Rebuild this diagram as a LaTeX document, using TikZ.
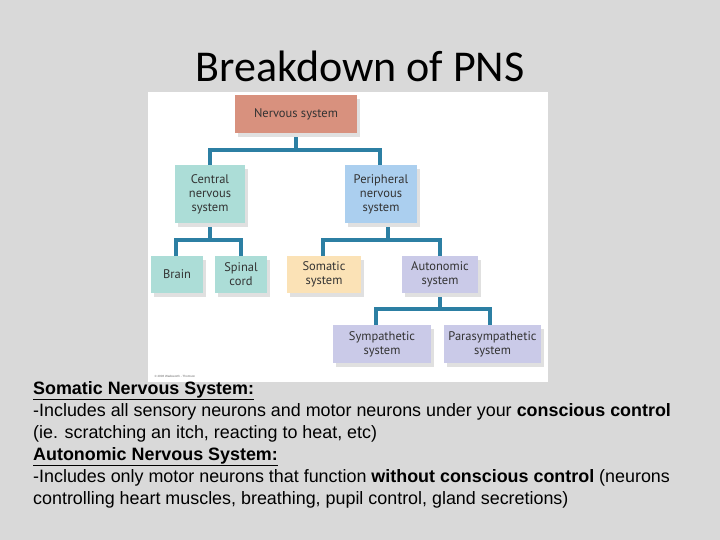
\documentclass[tikz,border=0pt]{standalone}
\usepackage{fontspec}
\setmainfont{Liberation Sans}
\newfontfamily\titlefont{Carlito}
\newfontfamily\boxfont{PT Sans}
\begin{document}
\begin{tikzpicture}[x=1pt,y=-1pt,
  bx/.style={draw=none,minimum width=#1,align=center,font=\boxfont\fontsize{12.5}{14}\selectfont,text=black!80,inner sep=1pt},
  conn/.style={draw=conncol,line width=4.5pt},
  body/.style={anchor=north west,inner sep=0pt,font=\fontsize{17.9}{22}\selectfont,align=left}]
\definecolor{conncol}{HTML}{2C7FA3}
\definecolor{cnerv}{HTML}{D8917E}
\definecolor{ccns}{HTML}{ACDDD7}
\definecolor{cpns}{HTML}{ABCFEF}
\definecolor{csom}{HTML}{FBE2B6}
\definecolor{caut}{HTML}{CACAE8}
\useasboundingbox (0,0) rectangle (720,540);
\fill[black!15] (0,0) rectangle (720,540);
\fill[white] (148,92) rectangle (548,382);
\node[font=\titlefont\fontsize{44}{46}\selectfont] (title) at (360,66) {Breakdown of PNS};
\def\bxx#1#2#3#4#5#6{\fill[black!12] (#2+3,#3+4) rectangle (#4+3,#5+4);
  \fill[#6] (#2,#3) rectangle (#4,#5);
  \coordinate (#1) at ({(#2+#4)/2},{(#3+#5)/2});}
\coordinate (b1l) at (210,150); \coordinate (b1r) at (380,150);
\coordinate (b2l) at (176,240); \coordinate (b2r) at (241,240);
\coordinate (b3l) at (323,240); \coordinate (b3r) at (440,240);
\coordinate (b4l) at (376,309); \coordinate (b4r) at (490,309);
\draw[conn] (296,133) -- (296,150);
\draw[conn] (210,165) -- (b1l) -- (b1r) -- (380,165);
\draw[conn] (210,223) -- (210,240);
\draw[conn] (176,256) -- (b2l) -- (b2r) -- (241,256);
\draw[conn] (388,223) -- (388,240);
\draw[conn] (323,256) -- (b3l) -- (b3r) -- (440,256);
\draw[conn] (440,293) -- (440,309);
\draw[conn] (376,325) -- (b4l) -- (b4r) -- (490,325);
\bxx{ns}{235}{95}{357}{133}{cnerv}
\bxx{cns}{175}{165}{245}{223}{ccns}
\bxx{pns}{345}{165}{417}{223}{cpns}
\bxx{br}{151}{256}{203}{293}{ccns}
\bxx{sc}{215}{256}{267}{293}{ccns}
\bxx{so}{287}{256}{361}{293}{csom}
\bxx{au}{402}{256}{478}{293}{caut}
\bxx{sy}{333}{325}{431}{363}{caut}
\bxx{ps}{444}{325}{541}{363}{caut}
\node[bx=100] (tns) at (ns) {Nervous system};
\node[bx=60] (tcns) at (cns) {Central\\nervous\\system};
\node[bx=60] (tpns) at (pns) {Peripheral\\nervous\\system};
\node[bx=40] (tbr) at (br) {Brain};
\node[bx=40] (tsc) at (sc) {Spinal\\cord};
\node[bx=60] (tso) at (so) {Somatic\\system};
\node[bx=60] (tau) at (au) {Autonomic\\system};
\node[bx=80] (tsy) at (sy) {Sympathetic\\system};
\node[bx=80] (tps) at (ps) {Parasympathetic\\system};
\node[anchor=west,font=\fontsize{3}{3}\selectfont,text=black!60] (cp) at (151,376) {\textcopyright\ 2006 Wadsworth - Thomson};
\node[body] (txt) at (33,381) {\textbf{\underline{Somatic Nervous System:}}\\
-Includes all sensory neurons and motor neurons under your \textbf{conscious control}\\
(ie. scratching an itch, reacting to heat, etc)\\
\textbf{\underline{Autonomic Nervous System:}}\\
-Includes only motor neurons that function \textbf{without conscious control} (neurons\\
controlling heart muscles, breathing, pupil control, gland secretions)};
\end{tikzpicture}
\end{document}
